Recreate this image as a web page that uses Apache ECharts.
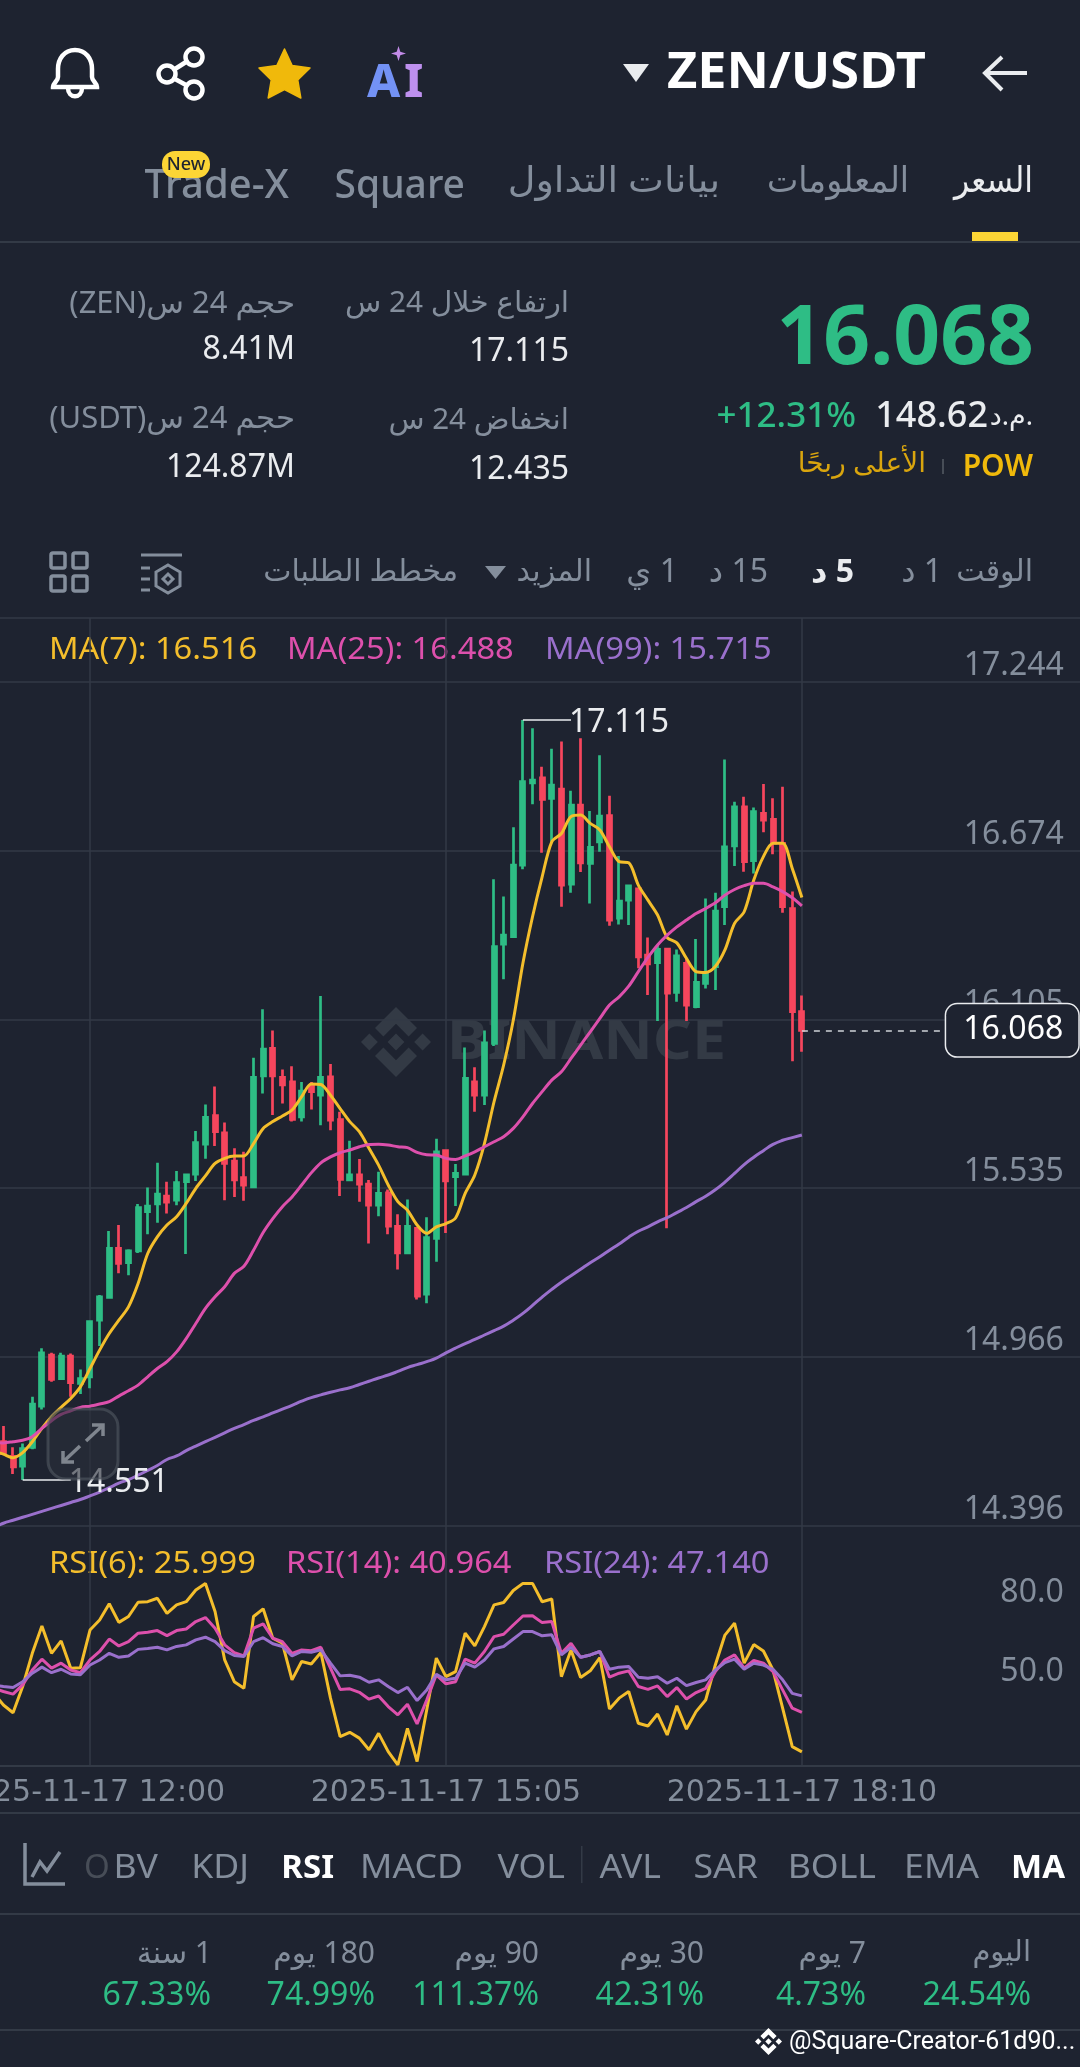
<!DOCTYPE html>
<html>
<head>
<meta charset="utf-8">
<style>html,body{margin:0;padding:0;background:#1e2330}#c{width:1080px;height:2067px}</style>
<script src="https://cdn.jsdelivr.net/npm/echarts@6/dist/echarts.min.js"></script>
</head>
<body>
<div id="c"></div>
<script>
const times = ['11:10','11:15','11:20','11:25','11:30','11:35','11:40','11:45','11:50','11:55','12:00','12:05','12:10','12:15','12:20','12:25','12:30','12:35','12:40','12:45','12:50','12:55','13:00','13:05','13:10','13:15','13:20','13:25','13:30','13:35','13:40','13:45','13:50','13:55','14:00','14:05','14:10','14:15','14:20','14:25','14:30','14:35','14:40','14:45','14:50','14:55','15:00','15:05','15:10','15:15','15:20','15:25','15:30','15:35','15:40','15:45','15:50','15:55','16:00','16:05','16:10','16:15','16:20','16:25','16:30','16:35','16:40','16:45','16:50','16:55','17:00','17:05','17:10','17:15','17:20','17:25','17:30','17:35','17:40','17:45','17:50','17:55','18:00','18:05','18:10'];
const labelledTimes = ['12:00','15:05','18:10'];
const datePrefix = '2025-11-17 ';
const opens = [14.72,14.680,14.631,14.598,14.661,14.800,14.972,14.893,14.969,14.877,14.899,15.090,15.167,15.332,15.284,15.324,15.456,15.482,15.509,15.495,15.557,15.583,15.684,15.780,15.722,15.627,15.571,15.540,15.914,16.007,15.909,15.894,15.776,15.880,15.849,15.911,15.767,15.563,15.580,15.549,15.478,15.520,15.407,15.317,15.400,15.178,15.366,15.662,15.574,15.583,15.894,15.849,16.024,16.359,16.384,16.625,16.903,16.920,16.850,16.882,16.561,16.828,16.631,16.704,16.792,16.446,16.507,16.545,16.322,16.296,16.342,16.196,16.294,16.148,16.226,16.283,16.485,16.690,16.822,16.640,16.800,16.780,16.699,16.479,16.131];
const closes = [14.66,14.640,14.595,14.657,14.807,14.980,14.890,14.969,14.879,14.893,15.085,15.169,15.332,15.282,15.324,15.470,15.475,15.515,15.488,15.554,15.580,15.689,15.774,15.726,15.619,15.563,15.546,15.909,16.005,15.914,15.884,15.767,15.863,15.861,15.909,15.765,15.565,15.580,15.549,15.478,15.518,15.407,15.317,15.407,15.171,15.369,15.658,15.560,15.585,15.906,15.849,16.026,16.350,16.389,16.625,16.907,16.912,16.847,16.895,16.558,16.828,16.633,16.685,16.791,16.440,16.504,16.555,16.316,16.292,16.341,16.193,16.319,16.153,16.230,16.260,16.470,16.687,16.822,16.637,16.806,16.777,16.699,16.485,16.131,16.068];
const lows = [14.64,14.635,14.571,14.551,14.655,14.789,14.882,14.890,14.832,14.841,14.860,15.003,15.165,15.248,15.242,15.317,15.380,15.419,15.450,15.478,15.313,15.560,15.635,15.678,15.495,15.506,15.493,15.535,15.855,15.782,15.821,15.760,15.760,15.801,15.748,15.731,15.509,15.563,15.490,15.349,15.441,15.380,15.261,15.317,15.160,15.147,15.287,15.384,15.475,15.580,15.793,15.816,16.015,16.240,16.381,16.611,16.831,16.667,16.704,16.485,16.532,16.602,16.496,16.670,16.421,16.425,16.423,16.277,16.187,16.099,15.400,16.164,16.099,16.142,16.209,16.204,16.423,16.622,16.603,16.597,16.736,16.662,16.465,15.964,15.996];
const highs = [14.74,14.733,14.661,14.674,14.832,14.995,14.980,14.980,14.978,14.924,15.088,15.175,15.391,15.411,15.329,15.482,15.538,15.621,15.557,15.593,15.583,15.728,15.818,15.878,15.757,15.670,15.658,15.975,16.139,16.067,15.936,15.947,15.894,15.894,16.184,15.954,15.793,15.695,15.634,15.563,15.591,15.531,15.447,15.497,15.400,15.437,15.702,15.665,15.617,16.010,15.943,16.067,16.578,16.519,16.753,17.115,17.087,16.957,17.018,17.042,16.876,17.053,16.808,16.996,16.859,16.656,16.555,16.547,16.381,16.356,16.345,16.341,16.311,16.376,16.513,16.532,16.982,16.839,16.856,16.820,16.899,16.851,16.890,16.536,16.185];
const ma7 = [14.649,14.638,14.626,14.643,14.680,14.725,14.764,14.796,14.826,14.865,14.927,14.989,15.045,15.090,15.135,15.214,15.315,15.371,15.411,15.439,15.484,15.535,15.577,15.619,15.636,15.644,15.644,15.686,15.737,15.760,15.779,15.799,15.844,15.887,15.885,15.849,15.804,15.760,15.726,15.670,15.613,15.546,15.490,15.461,15.411,15.383,15.405,15.416,15.435,15.518,15.580,15.686,15.827,15.951,16.102,16.294,16.451,16.586,16.704,16.732,16.789,16.794,16.766,16.744,16.687,16.637,16.633,16.558,16.507,16.457,16.381,16.363,16.311,16.266,16.263,16.283,16.339,16.429,16.468,16.575,16.654,16.699,16.699,16.614,16.516];
const ma25 = [14.680,14.676,14.680,14.685,14.697,14.725,14.751,14.772,14.784,14.796,14.800,14.807,14.815,14.834,14.852,14.871,14.899,14.927,14.950,14.983,15.028,15.079,15.130,15.169,15.203,15.248,15.272,15.326,15.386,15.433,15.473,15.506,15.546,15.587,15.621,15.641,15.655,15.664,15.675,15.683,15.684,15.681,15.675,15.672,15.656,15.648,15.647,15.636,15.632,15.644,15.658,15.675,15.692,15.709,15.737,15.776,15.821,15.861,15.900,15.928,15.973,16.018,16.063,16.108,16.153,16.181,16.217,16.266,16.314,16.356,16.389,16.417,16.440,16.462,16.479,16.498,16.524,16.543,16.556,16.564,16.564,16.552,16.536,16.515,16.488];
const ma99 = [14.39,14.405,14.415,14.425,14.435,14.445,14.455,14.465,14.475,14.485,14.497,14.51,14.525,14.54,14.552,14.567,14.583,14.6,14.62,14.632,14.65,14.665,14.68,14.695,14.71,14.725,14.738,14.752,14.764,14.777,14.79,14.803,14.817,14.829,14.838,14.847,14.855,14.862,14.873,14.884,14.895,14.905,14.917,14.93,14.94,14.95,14.962,14.98,14.996,15.011,15.025,15.04,15.055,15.07,15.09,15.113,15.14,15.168,15.194,15.218,15.24,15.262,15.284,15.304,15.326,15.347,15.37,15.39,15.405,15.422,15.436,15.453,15.47,15.49,15.508,15.53,15.556,15.585,15.615,15.64,15.662,15.683,15.697,15.706,15.715];
const rsi6 = [48.1,43.7,40.8,50.7,63.2,73.5,63.2,67.9,57.6,57.8,72.0,75.8,81.9,74.9,77.1,82.5,82.7,84.0,78.3,81.5,82.7,87.1,89.6,79.0,60.7,52.5,50.0,77.1,80.0,68.9,67.0,53.2,60.1,59.2,63.5,46.3,31.8,33.4,31.2,26.8,33.0,26.1,21.1,34.9,22.4,41.8,61.4,54.4,56.3,70.8,66.0,73.3,81.5,82.4,86.9,89.6,89.6,82.7,83.7,54.4,64.5,54.1,56.6,61.6,42.2,46.3,48.8,36.8,35.8,40.3,32.4,43.4,34.6,41.2,45.6,58.8,70.1,74.6,59.5,66.5,64.1,56.9,42.5,28.0,25.999];
const rsi14 = [50.0,48.8,47.8,51.3,56.9,61.0,57.6,59.5,56.9,55.9,60.7,63.9,68.6,66.0,67.6,70.8,71.2,71.8,69.9,71.8,72.4,75.2,76.7,72.7,66.4,63.5,62.2,72.7,74.3,68.9,67.6,63.2,64.5,64.2,65.5,57.6,49.6,49.8,48.5,45.9,47.1,43.1,40.0,44.0,36.6,45.6,55.1,51.7,52.5,61.0,59.5,63.9,69.5,70.4,73.9,77.3,77.4,74.8,75.2,63.2,67.0,61.7,62.6,63.9,54.2,55.7,56.6,50.7,49.6,50.9,46.9,50.3,46.0,48.4,50.0,56.3,60.7,62.6,57.6,60.5,59.5,56.3,49.4,42.5,40.964];
const rsi24 = [51.3,50.7,50.3,52.5,55.7,58.0,55.9,57.2,55.4,55.1,58.8,60.7,63.2,61.7,62.2,64.7,65.0,65.5,64.5,65.8,66.4,68.3,69.3,67.6,64.2,62.4,62.0,67.6,69.1,66.8,65.8,62.2,63.9,63.6,64.5,59.5,54.7,54.9,54.2,52.3,53.2,50.7,48.4,50.4,45.4,49.4,55.3,53.2,53.8,59.5,58.0,60.7,64.9,65.8,68.6,71.4,71.4,69.8,70.2,62.6,65.5,61.7,62.6,63.9,57.2,58.0,58.2,54.2,53.8,54.4,51.9,53.8,51.0,52.2,53.2,56.9,59.7,61.0,57.2,59.5,58.8,57.2,53.2,48.1,47.140];
const priceTickStart = 14.396, priceTickStep = 0.5696, priceTop = 17.459;
const rsiTicks = [50, 80];
const highMark = 17.115, lowMark = 14.551, lastPrice = 16.068;
const highIdx = 55, lowIdx = 3, lastIdx = 84;

const BG = '#1e2330', LINE = '#333a46', GRAY = '#848E9C', WHITE = '#EAECEF', GREEN = '#2EBD85', RED = '#F6465D';
const YEL = '#F0B90B', MA1 = '#F4BE2C', MA2 = '#DD50AC', MA3 = '#9A70CC';
const FONT = '"Noto Sans", "DejaVu Sans", sans-serif';
const WIDE = '"DejaVu Sans", sans-serif';
const NARROW = 'Roboto, "Liberation Sans", sans-serif';

const categories = times.concat(new Array(29).fill(''));
const candles = times.map((t, i) => [opens[i], closes[i], lows[i], highs[i]]);
const labelSet = new Set(labelledTimes);

function T(text, x, y, size, color, align, weight, extra) {
  return Object.assign({
    type: 'text', x, y, silent: true,
    style: { text, fill: color, align: align || 'right', verticalAlign: 'middle',
      font: (weight || 400) + ' ' + size + 'px ' + FONT }
  }, extra || {});
}
let shapeCount = 0;
function P(d, x, y, sx, sy, style, extra) {
  const name = 'uiShape' + (shapeCount++);
  echarts.graphic.registerShape(name, echarts.graphic.extendPath(d));
  return Object.assign({ type: name, silent: true, x, y, scaleX: sx, scaleY: sy, style }, extra || {});
}
function R(x, y, w, h, fill, r) {
  return { type: 'rect', silent: true, shape: { x, y, width: w, height: h, r: r || 0 }, style: { fill } };
}
const LOGO = 'M50 38L62 50L50 62L38 50ZM12 38L24 50L12 62L0 50ZM88 38L100 50L88 62L76 50ZM50 0L80 30L68 42L50 24L32 42L20 30ZM50 100L20 70L32 58L50 76L68 58L80 70Z';
const RLM = '\u200F';
const W108 = { scaleX: 1.08 }, W1088 = { scaleX: 1.088 };

const elements = [
  // watermark
  P(LOGO, 361, 1007, 0.7, 0.7, { fill: '#333a45' }),
  T('BINANCE', 447, 1044, 54, '#333a45', 'left', 700, { scaleX: 1.13 }),
  // header icons
  P('M25 3C14 3 8 12 8 22L8 30C8 34 3 36 3 40L47 40C47 36 42 34 42 30L42 22C42 12 36 3 25 3ZM18 41C18 52 32 52 32 41', 50, 47, 1, 1, { fill: 'none', stroke: '#fff', lineWidth: 4.5 }),
  { type: 'circle', silent: true, shape: { cx: 167, cy: 74, r: 8.5 }, style: { fill: 'none', stroke: '#fff', lineWidth: 4.5 } },
  { type: 'circle', silent: true, shape: { cx: 194, cy: 57, r: 8.5 }, style: { fill: 'none', stroke: '#fff', lineWidth: 4.5 } },
  { type: 'circle', silent: true, shape: { cx: 194, cy: 90, r: 8.5 }, style: { fill: 'none', stroke: '#fff', lineWidth: 4.5 } },
  { type: 'line', silent: true, shape: { x1: 175, y1: 69, x2: 186, y2: 62 }, style: { stroke: '#fff', lineWidth: 4.5 } },
  { type: 'line', silent: true, shape: { x1: 175, y1: 79, x2: 186, y2: 85 }, style: { stroke: '#fff', lineWidth: 4.5 } },
  P('M50 0L65 33L100 38L76 62L82 98L50 81L18 98L24 62L0 38L35 33Z', 259, 49, 0.51, 0.5, { fill: YEL, stroke: YEL, lineWidth: 3, lineJoin: 'round' }),
  T('A', 367, 84, 47, '#7392F5', 'left', 800),
  T('I', 404, 84, 47, '#BE90EE', 'left', 800),
  P('M50 0L62 38L100 50L62 62L50 100L38 62L0 50L38 38Z', 391, 46, 0.15, 0.15, { fill: '#C38BE8' }),
  T('ZEN/USDT', 926, 73, 51, '#fff', 'right', 700, { scaleX: 1.025 }),
  { type: 'polygon', silent: true, shape: { points: [[623, 64], [649, 64], [636, 82]] }, style: { fill: WHITE } },
  { type: 'polyline', silent: true, shape: { points: [[1002, 57], [985, 73], [1002, 90]] }, style: { fill: 'none', stroke: WHITE, lineWidth: 4 } },
  { type: 'line', silent: true, shape: { x1: 985, y1: 73, x2: 1027, y2: 73 }, style: { stroke: WHITE, lineWidth: 4 } },
  // tabs
  T('السعر', 1033, 182, 35, WHITE, 'right', 400, { scaleX: 0.9 }),
  T('المعلومات', 909, 182, 35, GRAY, 'right', 400, { scaleX: 0.95 }),
  T('بيانات التداول', 720, 182, 35, GRAY, 'right', 400, { scaleX: 1.09 }),
  T('Square', 465, 187, 39, GRAY, 'right', 500),
  T('Trade-X', 289, 187, 40, GRAY, 'right', 500),
  R(162, 151, 48, 27, '#FCD535', 13),
  T('New', 186, 165, 18, '#1e2330', 'center', 500),
  R(972, 232, 46, 9, '#FCD535'),
  R(0, 241, 1080, 2, LINE),
  // stats
  T('16.068', 1034, 341, 82, GREEN, 'right', 700),
  T('م.د.', 1033, 417, 27, WHITE),
  T('148.62', 988, 417, 36, WHITE, 'right', 500),
  T('+12.31%', 856, 417, 35, GREEN, 'right', 500),
  T('POW', 1033, 467, 30, YEL, 'right', 600),
  R(942, 459, 2, 15, '#474d57'),
  T('الأعلى ربحًا', 926, 464, 28, '#D9A50E'),
  T('ارتفاع خلال 24 س', 569, 304, 29, GRAY, 'right', 400, { scaleX: 1.025 }),
  T('17.115', 569, 352, 32, WHITE),
  T('انخفاض 24 س', 569, 421, 29, GRAY, 'right', 400, { scaleX: 1.02 }),
  T('12.435', 569, 470, 32, WHITE),
  T('(ZEN)حجم 24 س', 295, 304, 30, GRAY, 'right', 400, { scaleX: 1.03 }),
  T('8.41M', 295, 350, 32, WHITE),
  T('(USDT)حجم 24 س', 295, 419, 30, GRAY, 'right', 400, { scaleX: 1.03 }),
  T('124.87M', 295, 468, 32, WHITE),
  // toolbar
  T('الوقت', 1033, 572, 30, GRAY),
  T(RLM + '1 د', 942, 573, 32, GRAY),
  T(RLM + '5 د', 854, 573, 32, WHITE, 'right', 700),
  T(RLM + '15 د', 768, 573, 32, GRAY),
  T(RLM + '1 ي', 678, 573, 32, GRAY),
  T('المزيد', 592, 572, 30, GRAY),
  { type: 'polygon', silent: true, shape: { points: [[485, 566], [506, 566], [495.5, 579]] }, style: { fill: GRAY } },
  T('مخطط الطلبات', 458, 572, 30, GRAY),
  { type: 'rect', silent: true, shape: { x: 51, y: 553, width: 14, height: 15, r: 2 }, style: { fill: 'none', stroke: GRAY, lineWidth: 3.5 } },
  { type: 'rect', silent: true, shape: { x: 73, y: 553, width: 14, height: 15, r: 2 }, style: { fill: 'none', stroke: GRAY, lineWidth: 3.5 } },
  { type: 'rect', silent: true, shape: { x: 51, y: 576, width: 14, height: 15, r: 2 }, style: { fill: 'none', stroke: GRAY, lineWidth: 3.5 } },
  { type: 'rect', silent: true, shape: { x: 73, y: 576, width: 14, height: 15, r: 2 }, style: { fill: 'none', stroke: GRAY, lineWidth: 3.5 } },
  P('M0 2L41 2M0 15L9 15M0 26L9 26M0 37L9 37M27 12L39 19L39 33L27 40L15 33L15 19ZM27 21L32 26L27 31L22 26Z', 141, 553, 1, 1, { fill: 'none', stroke: GRAY, lineWidth: 3 }),
  // legends
  T('MA(7): 16.516', 49, 650, 30, MA1, 'left', 400, W1088),
  T('MA(25): 16.488', 287, 650, 30, MA2, 'left', 400, W1088),
  T('MA(99): 15.715', 545, 650, 30, MA3, 'left', 400, W1088),
  T('RSI(6): 25.999', 49, 1564, 30, MA1, 'left', 400, W1088),
  T('RSI(14): 40.964', 286, 1564, 30, MA2, 'left', 400, W1088),
  T('RSI(24): 47.140', 544, 1564, 30, MA3, 'left', 400, W1088),
  // expand button
  { type: 'rect', z: 60, silent: true, shape: { x: 48, y: 1409, width: 70, height: 70, r: 18 }, style: { fill: 'rgba(42,47,58,0.62)', stroke: 'rgba(86,92,102,0.55)', lineWidth: 3 } },
  P('M0 17L16 2M6 1L17 1L17 12', 86, 1424, 1, 1, { fill: 'none', stroke: '#7f858e', lineWidth: 3.5 }, { z: 61 }),
  P('M17 0L1 15M11 16L0 16L0 5', 63, 1446, 1, 1, { fill: 'none', stroke: '#7f858e', lineWidth: 3.5 }, { z: 61 }),
  // indicator bar
  R(0, 1812, 1080, 2, LINE),
  P('M1 0L1 41L41 41M8 34L16 19L23 28L36 9', 24, 1843, 1, 1, { fill: 'none', stroke: GRAY, lineWidth: 3.5 }),
  T('O', 84, 1869, 33, '#474d57', 'left'),
  T('BV', 158, 1869, 33, GRAY, 'right', 400, W108),
  T('KDJ', 249, 1869, 33, GRAY, 'right', 400, W108),
  T('RSI', 334, 1869, 33, '#fff', 'right', 700),
  T('MACD', 463, 1869, 33, GRAY, 'right', 400, W108),
  T('VOL', 565, 1869, 33, GRAY, 'right', 400, W108),
  R(581, 1846, 1.5, 37, LINE),
  T('AVL', 661, 1869, 33, GRAY, 'right', 400, W108),
  T('SAR', 758, 1869, 33, GRAY, 'right', 400, W108),
  T('BOLL', 876, 1869, 33, GRAY, 'right', 400, W108),
  T('EMA', 979, 1869, 33, GRAY, 'right', 400, W108),
  T('MA', 1065, 1869, 33, '#fff', 'right', 700),
  R(0, 1913, 1080, 2, LINE),
  // returns
  T('اليوم', 1031, 1953, 29, GRAY),
  T(RLM + '7 يوم', 866, 1954, 30, GRAY),
  T(RLM + '30 يوم', 704, 1954, 30, GRAY),
  T(RLM + '90 يوم', 539, 1954, 30, GRAY),
  T(RLM + '180 يوم', 375, 1954, 30, GRAY),
  T(RLM + '1 سنة', 212, 1954, 30, GRAY),
  T('24.54%', 1031, 1996, 32, GREEN),
  T('4.73%', 866, 1996, 32, GREEN),
  T('42.31%', 704, 1996, 32, GREEN),
  T('111.37%', 539, 1996, 32, GREEN),
  T('74.99%', 375, 1996, 32, GREEN),
  T('67.33%', 211, 1996, 32, GREEN),
  R(0, 2029, 1080, 2, LINE),
  P(LOGO, 755, 2028, 0.27, 0.27, { fill: '#fff' }),
  { type: 'text', x: 789, y: 2043, silent: true, style: { text: '@Square-Creator-61d90...', fill: '#fff', align: 'left', verticalAlign: 'middle', font: '400 25px ' + NARROW } }
];

function mark(idx, idx2, val, text) {
  return [{ coord: [idx, val], lineStyle: { color: '#EAECEF', width: 1.5, type: 'solid' },
    label: { show: true, position: 'end', distance: 0, offset: [-2, 3], formatter: text, color: '#EAECEF', fontSize: 32, fontFamily: FONT } }, { coord: [idx2, val] }];
}
function lineSeries(name, data, color, xi, yi, smooth) {
  return { name, type: 'line', data, xAxisIndex: xi, yAxisIndex: yi, showSymbol: false, smooth: smooth, silent: true,
    lineStyle: { color, width: 3 }, itemStyle: { color }, clip: true, z: 3 };
}

const chart = echarts.init(document.getElementById('c'));
chart.setOption({
  animation: false,
  backgroundColor: BG,
  graphic: { elements },
  grid: [
    { left: -6.2, width: 1087.06, top: 618, height: 907.9, outerBoundsMode: 'none' },
    { left: -6.2, width: 1087.06, top: 1525.9, height: 239.8, outerBoundsMode: 'none' }
  ],
  xAxis: [
    { type: 'category', gridIndex: 0, data: categories, boundaryGap: false,
      axisLine: { show: false }, axisTick: { show: false }, axisLabel: { show: false },
      splitLine: { show: true, interval: (i, v) => labelSet.has(v), lineStyle: { color: LINE, width: 1.5 } } },
    { type: 'category', gridIndex: 1, data: categories, boundaryGap: false,
      axisLine: { show: true, lineStyle: { color: LINE, width: 2 } }, axisTick: { show: false },
      axisLabel: { show: true, interval: (i, v) => labelSet.has(v), formatter: v => datePrefix + v, color: GRAY, fontSize: 30, fontFamily: WIDE, margin: 13 },
      splitLine: { show: true, interval: (i, v) => labelSet.has(v), lineStyle: { color: LINE, width: 1.5 } } }
  ],
  yAxis: [
    { type: 'value', gridIndex: 0, position: 'right', min: priceTickStart, max: priceTop, interval: priceTickStep,
      axisLine: { show: false }, axisTick: { show: false },
      axisLabel: { inside: true, margin: 17, color: GRAY, fontSize: 32, fontFamily: FONT, verticalAlign: 'bottom',
        formatter: v => v > 17.3 ? '' : v.toFixed(3) },
      splitLine: { show: true, lineStyle: { color: LINE, width: 1.5 } } },
    { type: 'value', gridIndex: 1, position: 'right', min: 20.8, max: 111.3,
      axisLine: { show: false }, axisTick: { show: false }, splitLine: { show: false },
      axisLabel: { inside: true, margin: 17, color: GRAY, fontSize: 32, fontFamily: FONT, verticalAlign: 'bottom', customValues: rsiTicks,
        formatter: v => v.toFixed(1) } }
  ],
  series: [
    { name: 'ZEN/USDT', type: 'candlestick', xAxisIndex: 0, yAxisIndex: 0, data: candles, barWidth: 4.5, silent: true, z: 2,
      itemStyle: { color: GREEN, color0: RED, borderColor: GREEN, borderColor0: RED, borderWidth: 2.7 },
      markLine: { silent: true, symbol: ['none', 'none'], animation: false, z: 4,
        data: [
          mark(highIdx, highIdx + 5, highMark, highMark.toFixed(3)),
          mark(lowIdx, lowIdx + 5, lowMark, lowMark.toFixed(3)),
          [{ coord: [lastIdx, lastPrice], lineStyle: { color: '#cfd3d8', width: 1.5, type: [6, 6] },
             label: { show: true, position: 'end', distance: 0, formatter: lastPrice.toFixed(3), color: '#fff', fontSize: 32, fontFamily: FONT,
               backgroundColor: BG, borderColor: '#EAECEF', borderWidth: 1.5, borderRadius: 11, padding: [10, 15, 10, 17] } },
           { coord: [lastIdx + 15, lastPrice] }]
        ] } },
    lineSeries('MA(7)', ma7, MA1, 0, 0, 0.3),
    lineSeries('MA(25)', ma25, MA2, 0, 0, 0.3),
    lineSeries('MA(99)', ma99, MA3, 0, 0, 0.5),
    lineSeries('RSI(6)', rsi6, MA1, 1, 1, false),
    lineSeries('RSI(14)', rsi14, MA2, 1, 1, false),
    lineSeries('RSI(24)', rsi24, MA3, 1, 1, false)
  ]
});
</script>
</body>
</html>
